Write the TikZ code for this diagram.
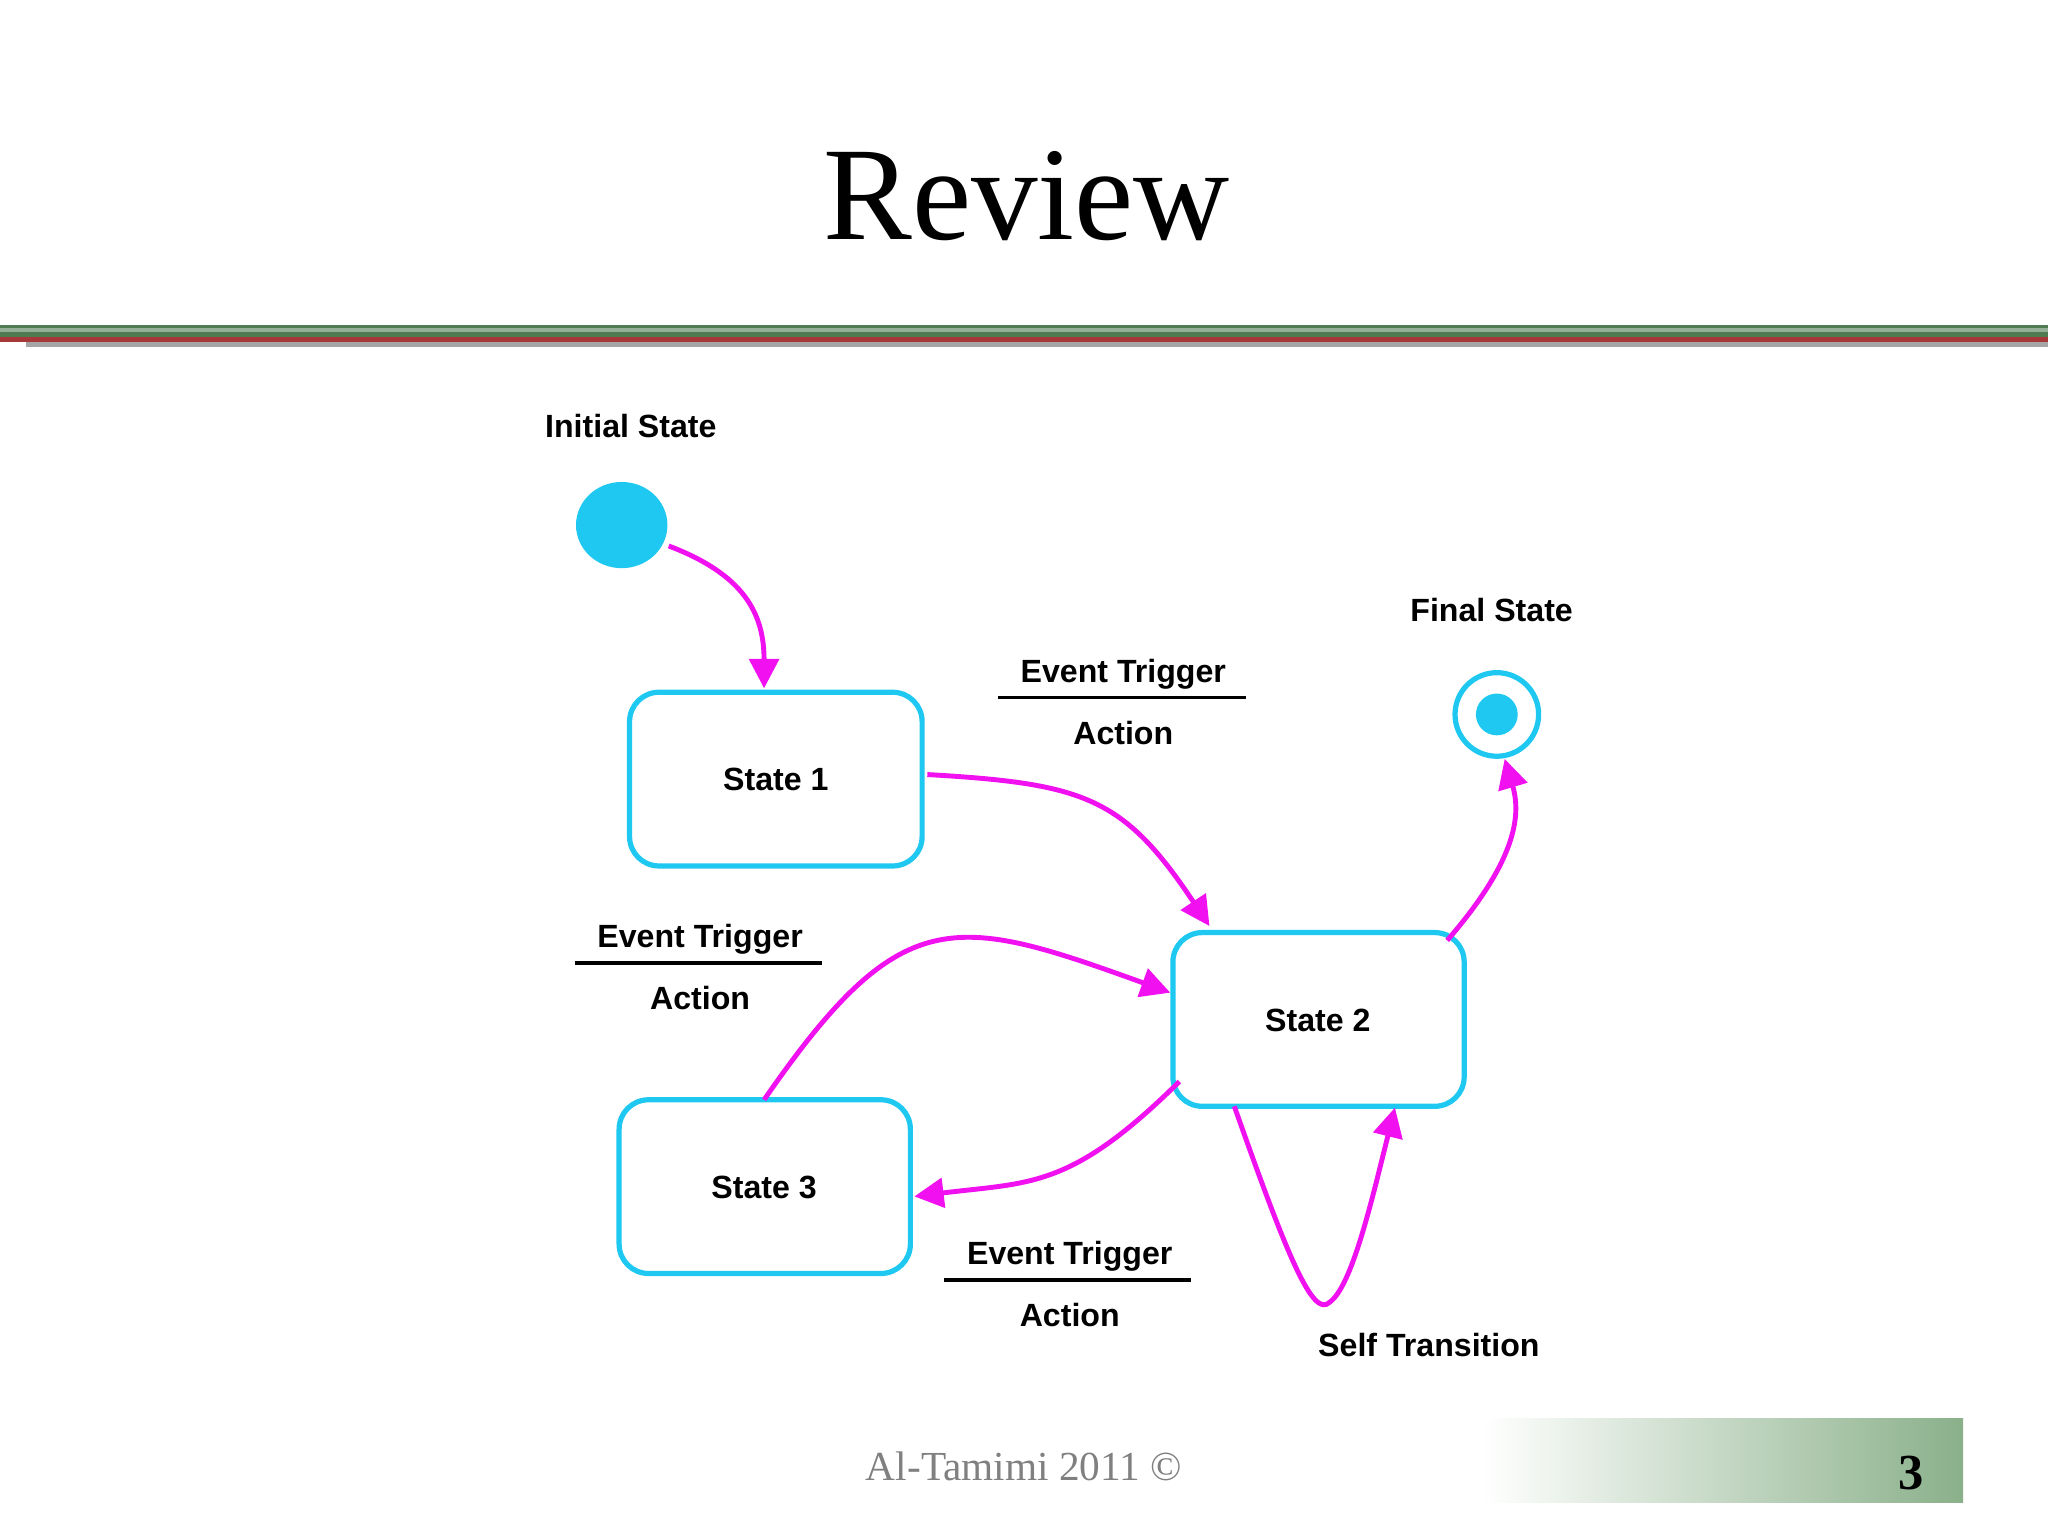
\documentclass[tikz,border=0pt]{standalone}
\usepackage{fontspec}
\setmainfont{Liberation Serif}
\setsansfont{Liberation Sans}
\usetikzlibrary{arrows.meta}
\definecolor{cy}{HTML}{1EC8F0}
\definecolor{mg}{HTML}{F010F0}
\definecolor{gbar}{HTML}{4F7A52}
\definecolor{rbar}{HTML}{A83838}
\definecolor{fgreen}{HTML}{8AB08A}
\tikzset{
 stbox/.style={draw=cy,line width=0.08cm,rounded corners=0.45cm},
 lbl/.style={font=\sffamily\bfseries\fontsize{14}{16}\selectfont,inner sep=0pt},
 tr/.style={draw=mg,line width=0.075cm,-{Triangle[length=0.45cm,width=0.45cm]}},
}
\begin{document}
\begin{tikzpicture}[x=0.02cm,y=-0.02cm]
\useasboundingbox (0,0) rectangle (1568,1176);
\node[font=\fontsize{58}{62}\selectfont] (title) at (786,150) {Review};
\fill[gbar] (0,249) rectangle (1568,258);
\fill[gbar!60!white] (0,251) rectangle (1568,254);
\fill[rbar] (0,258) rectangle (1568,262);
\fill[gray!70] (20,262) rectangle (1568,266);
% states
\draw[stbox] (482,530) rectangle (706,663);
\draw[stbox] (898,714) rectangle (1121,847);
\draw[stbox] (474,842) rectangle (697,975);
\node[lbl] (s1) at (594,597) {State 1};
\node[lbl] (s2) at (1009,781) {State 2};
\node[lbl] (s3) at (585,909) {State 3};
\coordinate (s1c) at (594,597);
\fill[cy] (476,402) ellipse (35 and 33);
\node[inner sep=0pt,minimum size=1pt] (init) at (476,402) {};
\draw[cy,line width=0.08cm] (1146,547) circle (32);
\fill[cy] (1146,547) circle (16);
\node[inner sep=0pt] (fin) at (1146,547) {};
\node[lbl] at (483,326) {Initial State};
\node[lbl] at (1142,467) {Final State};
\node[lbl] at (1094,1030) {Self Transition};
% event labels
\foreach \x/\y/\a/\b in {860/516/764/954, 536/719/440/629, 819/962/723/912}{
 \node[lbl] at (\x,\y) {Event Trigger};
 \draw[line width=0.06cm] (\a,\y+18) -- (\b,\y+18);
 \node[lbl] at (\x,\y+45) {Action};
}
% transitions
\draw[tr] (512,418) .. controls (570,440) and (585,470) .. (585,527);
\draw[tr] (710,593) .. controls (830,600) and (860,610) .. (926,709);
\draw[tr] (585,842) .. controls (690,690) and (730,700) .. (896,760);
\draw[tr] (903,828) .. controls (820,910) and (790,905) .. (700,916);
\draw[tr] (945,847) .. controls (985,960) and (1005,1010) .. (1018,997) .. controls (1035,985) and (1050,920) .. (1068,848);
\draw[tr] (1108,720) .. controls (1160,660) and (1165,625) .. (1152,581);
% footer
\shade[left color=white,right color=fgreen] (1135,1086) rectangle (1503,1150);
\node[text=gray,font=\fontsize{18}{20}\selectfont] at (784,1123) {Al-Tamimi 2011 \textcopyright};
\node[font=\bfseries\fontsize{22}{24}\selectfont] at (1463,1128) {3};
\end{tikzpicture}
\end{document}
